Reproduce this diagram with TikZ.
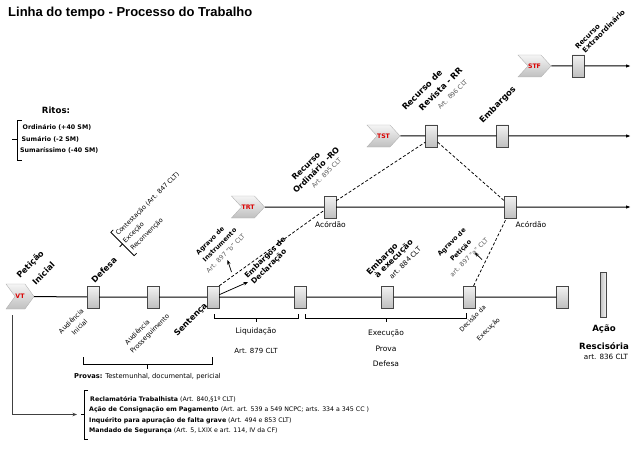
\documentclass[tikz,border=0pt]{standalone}
\usepackage{fontspec}
\setmainfont{DejaVu Sans}
\newfontfamily\titlefont{Liberation Sans}
\usetikzlibrary{shapes.symbols,arrows.meta}
\newcommand\myfs[1]{\fontsize{#1}{#1}\selectfont}
\begin{document}
\begin{tikzpicture}[x=1pt,y=-1pt,
  tl/.style={line width=1pt, draw=black},
  dsh/.style={line width=0.75pt, dash pattern=on 3pt off 2pt},
  br/.style={line width=0.75pt, draw=black},
  tip/.style={-{Stealth[length=4.5pt,width=3.5pt]}},
  etip/.style={-{Latex[length=5pt,width=3.5pt]}},
  box/.style={rectangle, minimum width=12pt, minimum height=22pt, inner sep=0pt,
    draw=gray!55!black, top color=gray!10, bottom color=gray!50},
  chev/.style={signal, signal to=east, signal from=west, signal pointer angle=95,
    minimum width=31pt, minimum height=22pt, inner sep=0pt, draw=gray!60,
    top color=gray!8, bottom color=gray!50, text=red!85!black,
    font=\bfseries\myfs{6.2}},
  rot/.style={rotate=45, inner sep=0.5pt, anchor=center},
  bl/.style={font=\bfseries\myfs{8}},
  sbl/.style={font=\bfseries\myfs{6.4}},
  rl/.style={font=\myfs{7.5}},
  sl/.style={font=\myfs{6.5}},
  al/.style={font=\myfs{6.3}, text=black!65},
  lw/.style={anchor=west, inner sep=0pt}
]
\useasboundingbox (0,0) rectangle (638,452);

% title
\node[lw, font=\titlefont\bfseries\myfs{13}] (title) at (8,13) {Linha do tempo - Processo do Trabalho};

% ritos
\node[font=\bfseries\myfs{8.6}] (ritos) at (56,110.5) {Ritos:};
\node[lw, font=\bfseries\myfs{6.3}] (rito1) at (22.5,127) {Ordinário (+40 SM)};
\node[lw, font=\bfseries\myfs{6.3}] (rito2) at (21.5,139.5) {Sumário (-2 SM)};
\node[lw, font=\bfseries\myfs{6.3}] (rito3) at (20,150.5) {Sumaríssimo (-40 SM)};
\draw[br] (22,120) -- (17,120) -- (17,160) -- (22,160);
\draw[br] (17,139.5) -- (12,139.5);

% VT line
\node[chev, minimum width=28pt, minimum height=25pt, signal pointer angle=108] (vt) at (20,296.5) {VT};
\node[box] (b1) at (93,297) {};
\node[box] (b2) at (153,297) {};
\node[box] (b3) at (213,297) {};
\node[box] (b4) at (300.5,297) {};
\node[box] (b5) at (387.5,297) {};
\node[box] (b6) at (469.5,297) {};
\node[box] (b7) at (562.5,297) {};
\draw[tl] (vt) -- (b1) -- (b2) -- (b3) -- (b4) -- (b5) -- (b6) -- (b7);

% TRT line
\node[chev] (trt) at (248,207) {TRT};
\node[box] (r1) at (330,207) {};
\node[box] (r2) at (510.5,207) {};
\coordinate (trtend) at (631,207);
\draw[tl,etip] (trt) -- (r1) -- (r2) -- (trtend);

% TST line
\node[chev] (tst) at (383.5,136) {TST};
\node[box] (s1) at (431.5,136) {};
\node[box] (s2) at (502.5,136) {};
\coordinate (tstend) at (631,136);
\draw[tl,etip] (tst) -- (s1) -- (s2) -- (tstend);

% STF line
\node[chev] (stf) at (534.5,66) {STF};
\node[box] (f1) at (578.5,66) {};
\coordinate (stfend) at (631,66);
\draw[tl,etip] (stf) -- (f1) -- (stfend);

% Ação rescisória bar
\node[rectangle, minimum width=6pt, minimum height=45pt, inner sep=0pt,
  draw=gray!55!black, left color=gray!50, right color=gray!10] (ar) at (603,294.5) {};

% dashed connectors
\draw[dsh] (b3.north east) -- (r1.210);
\draw[dsh] (r1.45) -- (s1.225);
\draw[dsh] (s1.-45) -- (r2.135);
\draw[dsh] (b6.70) -- (r2.250);

% arrows
\coordinate (edecl) at (248,282);
\draw[line width=0.75pt, tip] (b3.20) -- (edecl);
\coordinate (ai1) at (231.5,272);
\coordinate (ai2) at (227.5,260);
\draw[line width=0.75pt, tip] (ai1) -- (ai2);
\coordinate (ap1) at (482,259.5);
\coordinate (ap2) at (474.5,252.5);
\draw[line width=0.75pt, tip] (ap1) -- (ap2);

% left vertical arrow to list
\coordinate (vtd) at (12,315);
\coordinate (lst) at (77,414.5);
\draw[line width=0.8pt, draw=black!75, tip] (vtd) |- (lst);

% brackets below line
\draw[br] (214,314) -- (214,318) -- (298,318) -- (298,314);
\draw[br] (256,318) -- (256,322);
\draw[br] (305,314) -- (305,318) -- (466.5,318) -- (466.5,313);
\draw[br] (386,318) -- (386,322);
\draw[br] (83,357) -- (83,364) -- (212,364) -- (212,357);
\draw[br] (147,364) -- (147,369);

% list bracket
\draw[br] (88,390) -- (84,390) -- (84,439) -- (88,439);
\draw[br] (84,414.5) -- (80.5,414.5);

% labels on VT line
\node[rot, font=\bfseries\myfs{8.2}] (pet1) at (30.5,264.5) {Petição};
\node[rot, font=\bfseries\myfs{8.2}] (pet2) at (43.5,273.5) {Inicial};
\node[rot, font=\bfseries\myfs{8.2}] (def) at (104,270) {Defesa};
\node[rot, sl] (aud1a) at (71,321) {Audiência};
\node[rot, sl] (aud1b) at (79.5,327) {Inicial};
\node[rot, sl] (aud2a) at (137,332) {Audiência};
\node[rot, sl] (aud2b) at (150,334) {Prosseguimento};
\node[rot, font=\bfseries\myfs{8.2}] (sent) at (191,320) {Sentença};
\node[rot, sbl] (ai_a) at (210.5,241) {Agravo de};
\node[rot, sbl] (ai_b) at (219.5,245) {Instrumento};
\node[rot, al] (ai_c) at (225.5,253.5) {Art. 897 “b” CLT};
\node[rot, font=\bfseries\myfs{7.4}] (ed_a) at (265.5,258) {Embargos de};
\node[rot, font=\bfseries\myfs{7.4}] (ed_b) at (269,267) {Declaração};
\node[rot, font=\bfseries\myfs{8}] (eex_a) at (382.5,259.5) {Embargo};
\node[rot, font=\bfseries\myfs{8}] (eex_b) at (394,259) {à execução};
\node[rot, font=\myfs{6.8}] (eex_c) at (405,263) {art. 884 CLT};
\node[rot, sbl] (ap_a) at (452,242.5) {Agravo de};
\node[rot, sbl] (ap_b) at (461,251) {Petição};
\node[rot, al] (ap_c) at (469,257.5) {art. 897 “a” CLT};
\node[rot, font=\myfs{6.2}] (dec_a) at (472.5,318.5) {Decisão da};
\node[rot, font=\myfs{6.2}] (dec_b) at (488.5,329.5) {Execução};

% Defesa bracket
\begin{scope}[shift={(122.5,244)}, rotate=45]
  \draw[br] (3.5,-16.5) -- (0,-16.5) -- (0,16.5) -- (3.5,16.5);
  \draw[br] (0,0) -- (-4,0);
  \node[rotate=45, anchor=west, inner sep=0.5pt, font=\myfs{6.4}] (cont) at (2,-10.5) {Contestação (Art. 847 CLT)};
  \node[rotate=45, anchor=west, inner sep=0.5pt, font=\myfs{6.4}] (exc) at (2,0) {Exceção};
  \node[rotate=45, anchor=west, inner sep=0.5pt, font=\myfs{6.4}] (recv) at (2,10.5) {Reconvenção};
\end{scope}

% horizontal labels
\node[rl] (liq) at (256,331) {Liquidação};
\node[font=\myfs{7}] (liqart) at (256,351) {Art. 879 CLT};
\node[rl] (exe) at (386,333) {Execução};
\node[rl] (prova) at (386,348.5) {Prova};
\node[rl] (defesa2) at (386,364) {Defesa};
\node[rl] (ac1) at (330.5,225) {Acórdão};
\node[rl] (ac2) at (531,225) {Acórdão};

% recursos
\node[rot, font=\bfseries\myfs{8}] (ro_a) at (306,166) {Recurso};
\node[rot, font=\bfseries\myfs{8}] (ro_b) at (316,170) {Ordinário -RO};
\node[rot, al] (ro_c) at (326.5,173) {Art. 895 CLT};
\node[rot, font=\bfseries\myfs{8.4}] (rr_a) at (422,90) {Recurso de};
\node[rot, font=\bfseries\myfs{8.4}] (rr_b) at (440.5,89) {Revista - RR};
\node[rot, al] (rr_c) at (452.5,94.5) {Art. 896 CLT};
\node[rot, font=\bfseries\myfs{8.4}] (emb) at (498,105) {Embargos};
\node[rot, font=\bfseries\myfs{7}] (rex_a) at (587.5,36.5) {Recurso};
\node[rot, font=\bfseries\myfs{7}] (rex_b) at (603.5,31) {Extraordinário};

% Ação rescisória labels
\node[font=\bfseries\myfs{8.6}] (acao) at (604,328.5) {Ação};
\node[font=\bfseries\myfs{8.6}] (resc) at (604,346.5) {Rescisória};
\node[font=\myfs{7.2}] (art836) at (606,356.5) {art. 836 CLT};

% provas
\node[lw, font=\myfs{6.7}] (provas) at (74,377) {\textbf{Provas:} Testemunhal, documental, pericial};

% list
\node[lw, font=\myfs{6.25}] (l1) at (90,399.3) {\textbf{Reclamatória Trabalhista} (Art. 840,§1º CLT)};
\node[lw, font=\myfs{6.25}] (l2) at (89,409.3) {\textbf{Ação de Consignação em Pagamento} (Art. art. 539 a 549 NCPC; arts. 334 a 345 CC )};
\node[lw, font=\myfs{6.25}] (l3) at (89,421) {\textbf{Inquérito para apuração de falta grave} (Art. 494 e 853 CLT)};
\node[lw, font=\myfs{6.25}] (l4) at (89,430.7) {\textbf{Mandado de Segurança} (Art. 5, LXIX e art. 114, IV da CF)};
\end{tikzpicture}
\end{document}
